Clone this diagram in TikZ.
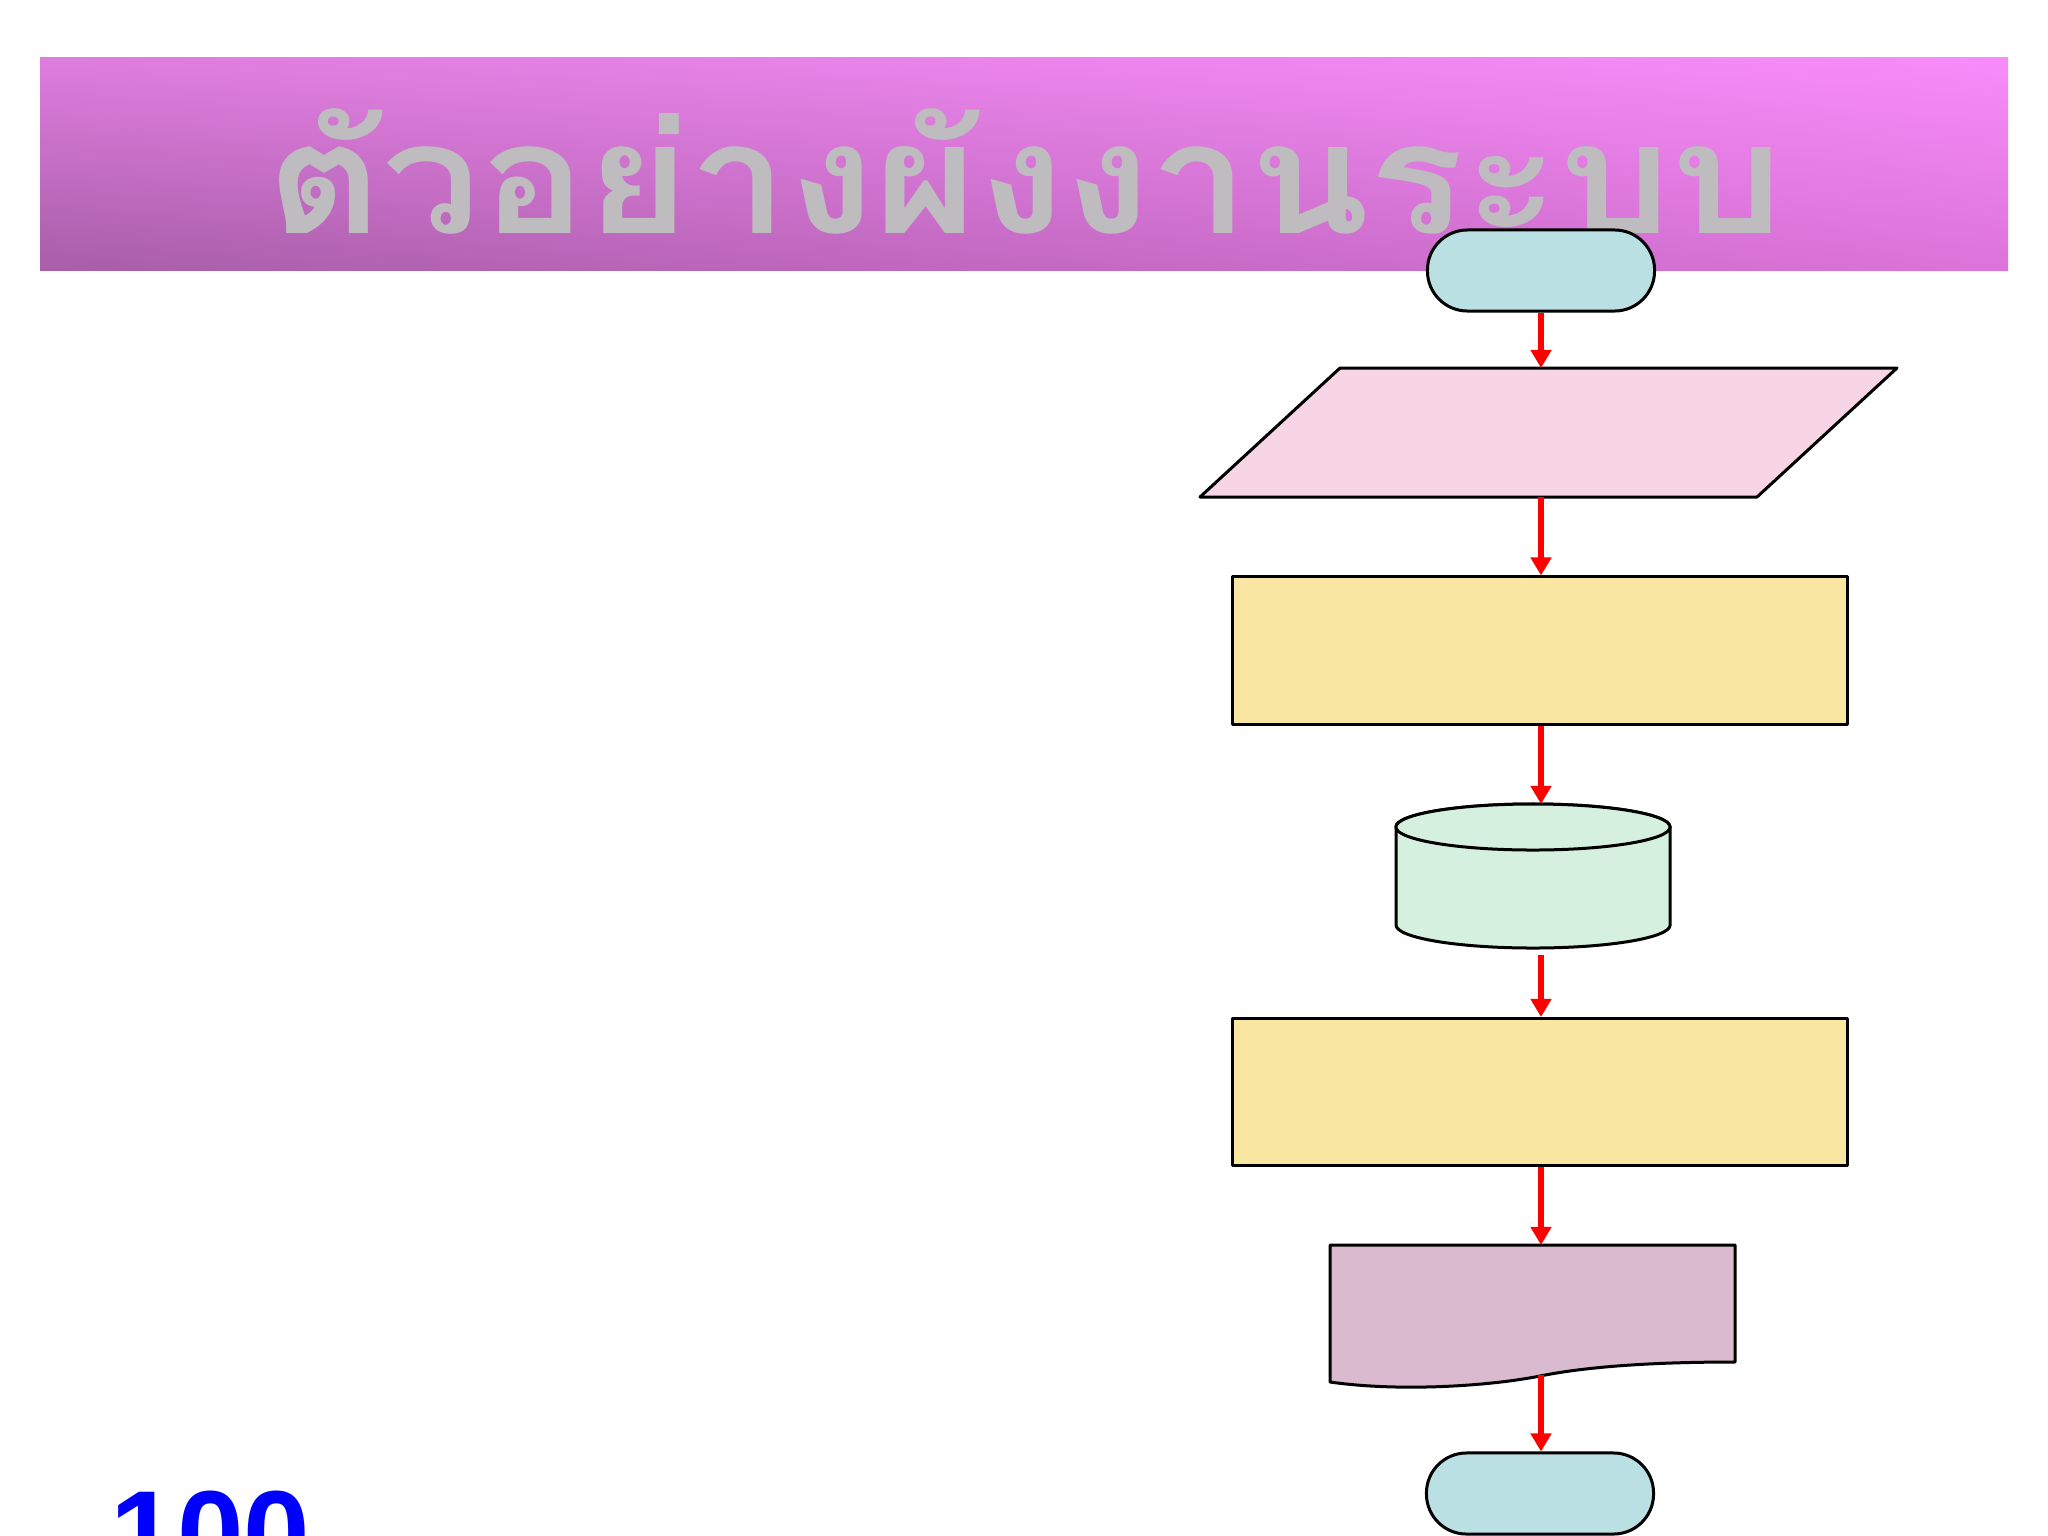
\documentclass[tikz,border=0pt]{standalone}
\usepackage{fontspec}
\setmainfont{Liberation Sans}
\newfontfamily\thaifont[Script=Thai]{Loma}
\usetikzlibrary{arrows.meta,shadings}
\definecolor{termfill}{RGB}{187,224,227}
\definecolor{iofill}{RGB}{247,213,228}
\definecolor{procfill}{RGB}{249,230,163}
\definecolor{dbfill}{RGB}{214,240,224}
\definecolor{docfill}{RGB}{217,186,206}
\definecolor{titlegrey}{RGB}{190,188,190}
\definecolor{bannerTL}{RGB}{222,125,222}
\definecolor{bannerTR}{RGB}{248,140,250}
\definecolor{bannerBL}{RGB}{168,94,168}
\definecolor{bannerBR}{RGB}{220,115,218}
\definecolor{pageblue}{RGB}{0,0,255}
\begin{document}
\begin{tikzpicture}[x=0.01cm,y=-0.01cm,
  shapeline/.style={draw=black,line width=0.03cm,line join=round},
  flow/.style={draw=red,line width=0.06cm,-{Triangle[width=0.2cm,length=0.18cm]}},
  termbox/.style={shapeline,fill=termfill,rounded corners=0.4cm,minimum width=2.27cm,minimum height=0.81cm,inner sep=0},
  procbox/.style={shapeline,fill=procfill,minimum width=6.14cm,minimum height=1.47cm,inner sep=0},
  anchorbox/.style={inner sep=0,outer sep=0}]
\useasboundingbox (0,0) rectangle (2048,1536);
\fill[white] (0,0) rectangle (2048,1536);
\begin{scope}
\clip (0,0) rectangle (2048,1536);
\shade[upper left=bannerTL,upper right=bannerTR,lower left=bannerBL,lower right=bannerBR] (40,57) rectangle (2008,270);
\node[anchor=base,inner sep=0,text=titlegrey] (title) at (1025,233) {\resizebox{15.15cm}{\height}{\thaifont\bfseries\fontsize{44}{50}\selectfont ตัวอย่างผังงานระบบ}};
\node[anchor=base west,inner sep=0,text=pageblue,font=\bfseries\fontsize{34}{40}\selectfont] (pg) at (110,1574) {100};
% start terminal
\node[termbox] (st) at (1541,270.5) {};
% input/output parallelogram
\node[anchorbox,minimum width=6.97cm,minimum height=1.29cm] (io) at (1548.5,432.5) {};
\draw[shapeline,fill=iofill] (1340,368) -- (1897,368) -- (1757,497) -- (1200,497) -- cycle;
% process 1
\node[procbox] (p1) at (1540,650.5) {};
% disk storage
\node[anchorbox,minimum width=2.74cm,minimum height=1.44cm] (db) at (1533,876) {};
\draw[shapeline,fill=dbfill] (1396,827) -- (1396,925) arc[start angle=180,end angle=360,x radius=1.37cm,y radius=0.23cm] -- (1670,827) arc[start angle=0,end angle=180,x radius=1.37cm,y radius=0.23cm] -- cycle;
\draw[shapeline,fill=dbfill] (1533,827) ellipse [x radius=1.37cm,y radius=0.23cm];
\coordinate (dbout) at (1541,955);
% process 2
\node[procbox] (p2) at (1540,1092) {};
% document
\node[anchorbox,minimum width=4.05cm,minimum height=1.43cm] (doc) at (1532.5,1316.5) {};
\draw[shapeline,fill=docfill] (1330,1245) -- (1735,1245) -- (1735,1362) .. controls (1640,1362) and (1580,1368) .. (1540,1376) .. controls (1490,1386) and (1400,1392) .. (1330,1382) -- cycle;
\coordinate (docout) at (1541,1375);
% end terminal
\node[termbox] (en) at (1540,1493.5) {};
% connectors
\draw[flow] (st.south) -- (st.south |- io.north);
\draw[flow] (st.south |- io.south) -- (st.south |- p1.north);
\draw[flow] (st.south |- p1.south) -- (st.south |- db.north);
\draw[flow] (dbout) -- (dbout |- p2.north);
\draw[flow] (st.south |- p2.south) -- (st.south |- doc.north);
\draw[flow] (docout) -- (docout |- en.north);
\end{scope}
\end{tikzpicture}
\end{document}
